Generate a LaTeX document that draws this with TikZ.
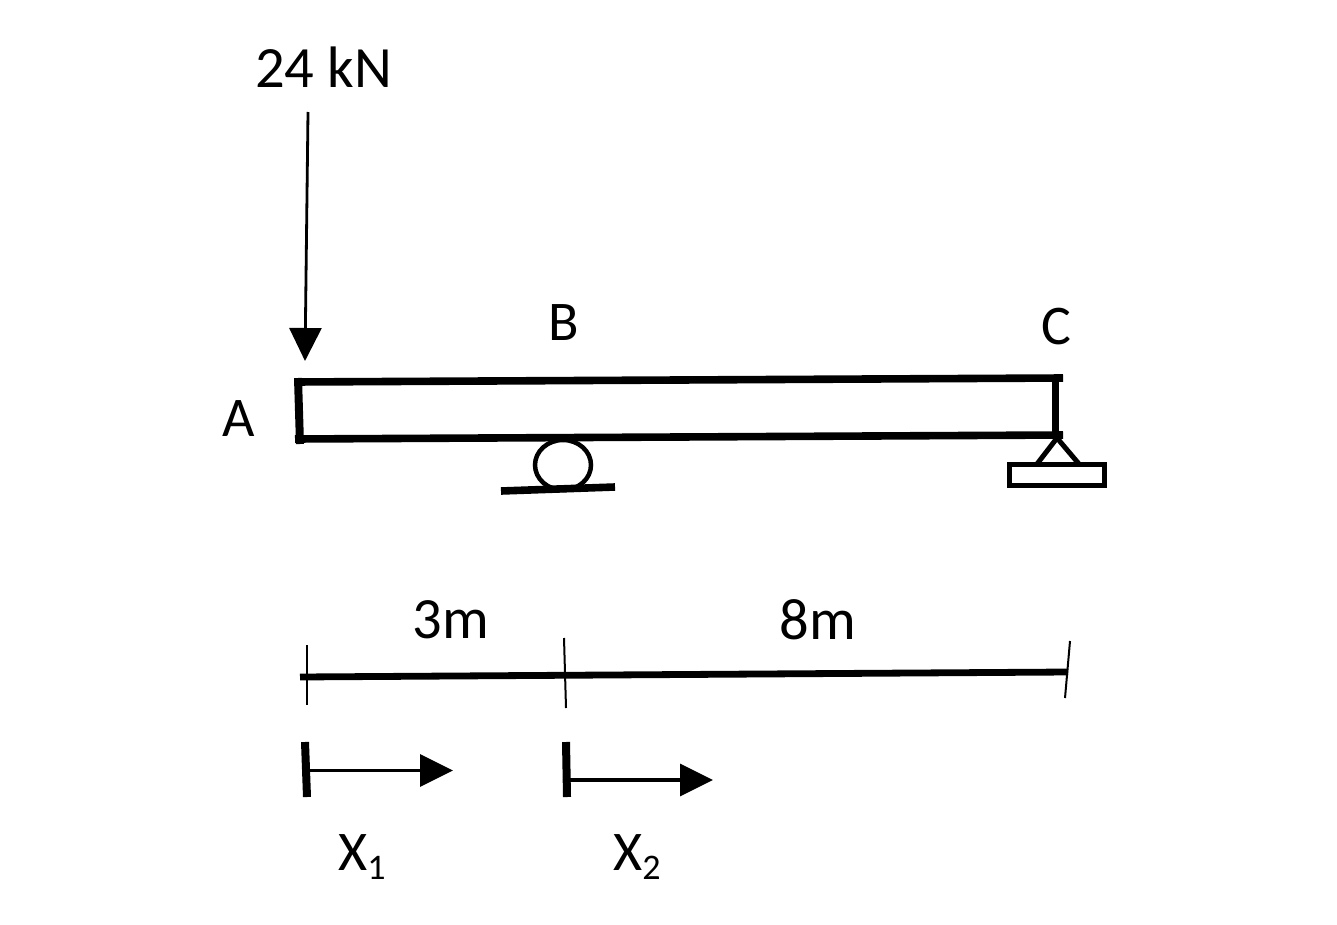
\documentclass[tikz,border=0pt]{standalone}
\usepackage{fontspec}
\setmainfont{Carlito}
\usetikzlibrary{arrows.meta,shapes.geometric}
\tikzset{
  lbl/.style={inner sep=0pt,font=\fontsize{56}{60}\selectfont,text=black},
  biglbl/.style={inner sep=0pt,font=\fontsize{58.5}{64}\selectfont,text=black},
  beamline/.style={line width=7.6pt,line cap=butt},
  dimline/.style={line width=6.8pt},
  tickline/.style={line width=2pt},
  startbar/.style={line width=8pt},
  force/.style={line width=2.8pt,-{Triangle[length=33pt,width=32pt]}},
  runline/.style={line width=3.2pt,-{Triangle[length=33pt,width=32pt]}},
  supline/.style={line width=5pt}
}
\newcommand{\subx}[1]{X\raisebox{-0.16em}{\fontsize{36}{40}\selectfont #1}}
\begin{document}
\begin{tikzpicture}[x=1pt,y=-1pt]
\useasboundingbox (0,0) rectangle (1337,925);
% labels
\node[biglbl] (load) at (323.5,67) {24 kN};
\node[lbl] (lA) at (239,419) {A};
\node[lbl] (lB) at (564,323) {B};
\node[lbl] (lC) at (1056,327) {C};
\node[biglbl] (l3) at (451,620) {3m};
\node[biglbl] (l8) at (818,620) {8m};
\node[lbl] (x1) at (362,857) {\subx{1}};
\node[lbl] (x2) at (637,857) {\subx{2}};
% roller
\node[draw,line width=4.5pt,ellipse,inner sep=0pt,minimum width=56pt,minimum height=50pt] (roll) at (563,465) {};
% beam
\coordinate (tl) at (295,382);
\coordinate (tr) at (1063,378);
\coordinate (bl) at (295,439);
\coordinate (br) at (1063,435);
\draw[beamline] (tl) -- (tr);
\draw[beamline] (bl) -- (br);
\coordinate (al) at (298,378);
\coordinate (ab) at (300,444);
\coordinate (cl) at (1055.5,378);
\coordinate (cb) at (1055.5,437);
\draw[startbar] (al) -- (ab);
\draw[beamline] (cl) -- (cb);
% force
\coordinate (fs) at (308,112);
\coordinate (fe) at (305,361);
\draw[force] (fs) -- (fe);
% ground under roller
\coordinate (g1) at (501,491);
\coordinate (g2) at (615,487);
\draw[beamline] (g1) -- (g2);
% pin
\coordinate (pa) at (1057,438);
\coordinate (pl) at (1037,464);
\coordinate (pr) at (1079,464);
\draw[supline] (pl) -- (pa) -- (pr);
\node[draw,supline,fill=white,minimum width=95pt,minimum height=21pt,inner sep=0pt] (base) at (1056.5,474.5) {};
% dimension line
\coordinate (d1) at (300,677);
\coordinate (d2) at (1068,672);
\draw[dimline] (d1) -- (d2);
\coordinate (t1a) at (307,645);
\coordinate (t1b) at (307,705);
\coordinate (t2a) at (564,638);
\coordinate (t2b) at (566,708);
\coordinate (t3a) at (1070,641);
\coordinate (t3b) at (1065,698);
\draw[tickline] (t1a) -- (t1b);
\draw[tickline] (t2a) -- (t2b);
\draw[tickline] (t3a) -- (t3b);
% x1
\coordinate (b1a) at (305,742);
\coordinate (b1b) at (307,797);
\draw[startbar] (b1a) -- (b1b);
\coordinate (r1a) at (309,770.5);
\coordinate (r1b) at (453,770.5);
\draw[runline] (r1a) -- (r1b);
% x2
\coordinate (b2a) at (566,742);
\coordinate (b2b) at (567,797);
\draw[startbar] (b2a) -- (b2b);
\coordinate (r2a) at (569,780);
\coordinate (r2b) at (713,780);
\draw[runline] (r2a) -- (r2b);
\end{tikzpicture}
\end{document}
